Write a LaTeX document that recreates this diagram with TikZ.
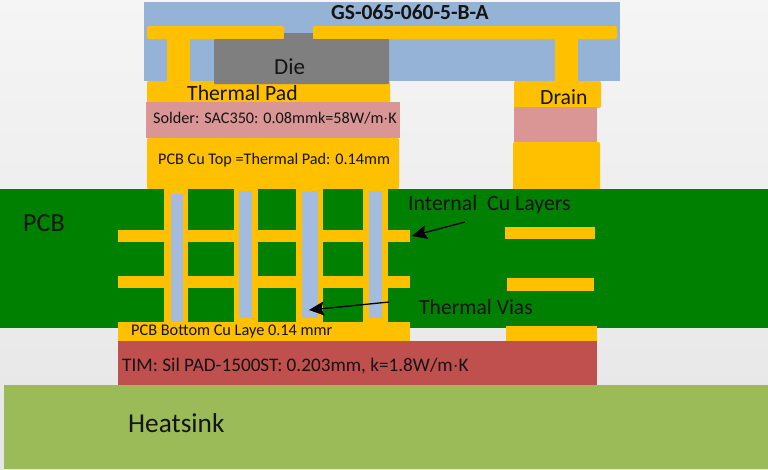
\documentclass[tikz,border=0pt]{standalone}
\usepackage{fontspec}
\setmainfont{Carlito}
\usetikzlibrary{arrows.meta}
\definecolor{pkgblue}{HTML}{95B3D7}
\definecolor{viablue}{HTML}{A3BBDC}
\definecolor{cuyellow}{HTML}{FFC000}
\definecolor{diegray}{HTML}{7F7F7F}
\definecolor{solderpink}{HTML}{D99694}
\definecolor{pcbgreen}{HTML}{008000}
\definecolor{timred}{HTML}{C0504D}
\definecolor{sinkgreen}{HTML}{9BBB59}
\tikzset{
  cu/.style={fill=cuyellow},
  curound/.style={fill=cuyellow,rounded corners=2pt},
  lbl/.style={inner sep=0,text=black!92,anchor=west},
  callout/.style={-{Stealth[length=15pt,width=14pt,inset=2.5pt]},line width=1.3pt}
}
\begin{document}
\begin{tikzpicture}[x=1pt,y=-1pt]
\useasboundingbox (0,0) rectangle (768,469);
\fill[top color=black!4,bottom color=black!10] (0,0) rectangle (768,469);
% package
\fill[pkgblue] (144,2) rectangle (620,81);
\fill[curound] (147,26) rectangle (284,39);
\fill[curound] (313,26) rectangle (617,39);
\fill[cu] (167,38) rectangle (190,81);
\fill[cu] (555,38) rectangle (578,81);
% pads
\fill[curound] (147,81) rectangle (390,103);
\fill[curound] (514,81) rectangle (601,108);
\fill[diegray,rounded corners=1pt] (214,39) rectangle (389,84);
\fill[diegray] (284,33) rectangle (313,40);
\fill[solderpink] (146,102) rectangle (400,138);
\fill[solderpink] (514,107) rectangle (597,143);
\fill[curound] (147,138) rectangle (399,189);
\fill[curound] (513,142) rectangle (600,191);
% pcb
\fill[pcbgreen] (0,189) rectangle (768,328);
\foreach \xa/\xb in {164/188,234/258,296/323,363/388}
  \fill[cu] (\xa,188) rectangle (\xb,323);
\foreach \ya/\yb in {230/242,276/288}
  \fill[cu] (118,\ya) rectangle (410,\yb);
\fill[cu] (118,322) rectangle (410,341);
\fill[viablue] (171,194) rectangle (183,322);
\foreach \xa/\xb in {239/252,302/318,369/382}
  \fill[viablue] (\xa,191) rectangle (\xb,318);
\fill[cu] (505,227) rectangle (595,239);
\fill[cu] (507,278) rectangle (594,291);
\fill[cu] (506,326) rectangle (597,341);
% tim and heatsink
\fill[timred] (118,341) rectangle (597,385);
\fill[sinkgreen] (4,385) rectangle (768,469);
% labels
\node[lbl,font=\fontsize{21.5}{22}\selectfont\bfseries] (partno) at (331,12) {GS-065-060-5-B-A};
\node[lbl,font=\fontsize{23}{23}\selectfont] (die) at (274,67) {Die};
\node[lbl,font=\fontsize{21.7}{22}\selectfont] (thermalpad) at (187,93) {Thermal Pad};
\node[lbl,font=\fontsize{21.7}{22}\selectfont] (drain) at (540,97) {Drain};
\node[lbl,font=\fontsize{16.2}{16}\selectfont] (solder) at (153,118) {Solder: SAC350: 0.08mmk=58W/m$\cdot$K};
\node[lbl,font=\fontsize{16.2}{16}\selectfont] (cutop) at (158,160) {PCB Cu Top =Thermal Pad: 0.14mm};
\node[lbl,font=\fontsize{26}{26}\selectfont] (pcb) at (23,223) {PCB};
\node[lbl,font=\fontsize{21.8}{22}\selectfont] (intcu) at (408,205) {Internal\ \ Cu Layers};
\node[lbl,font=\fontsize{21.6}{22}\selectfont] (vias) at (419,307) {Thermal Vias};
\node[lbl,font=\fontsize{16.3}{16}\selectfont] (cubot) at (131,332) {PCB Bottom Cu Laye 0.14 mmr};
\node[lbl,font=\fontsize{19.2}{19}\selectfont] (tim) at (122,366) {TIM: Sil PAD-1500ST: 0.203mm, k=1.8W/m$\cdot$K};
\node[lbl,font=\fontsize{27.3}{27}\selectfont] (heatsink) at (128,423) {Heatsink};
% arrows
\coordinate (intcuend) at (465,222);
\coordinate (intcutip) at (412,236);
\coordinate (viaend) at (389,302);
\coordinate (viatip) at (309,310);
\draw[callout] (intcuend) -- (intcutip);
\draw[callout] (viaend) -- (viatip);
\end{tikzpicture}
\end{document}
